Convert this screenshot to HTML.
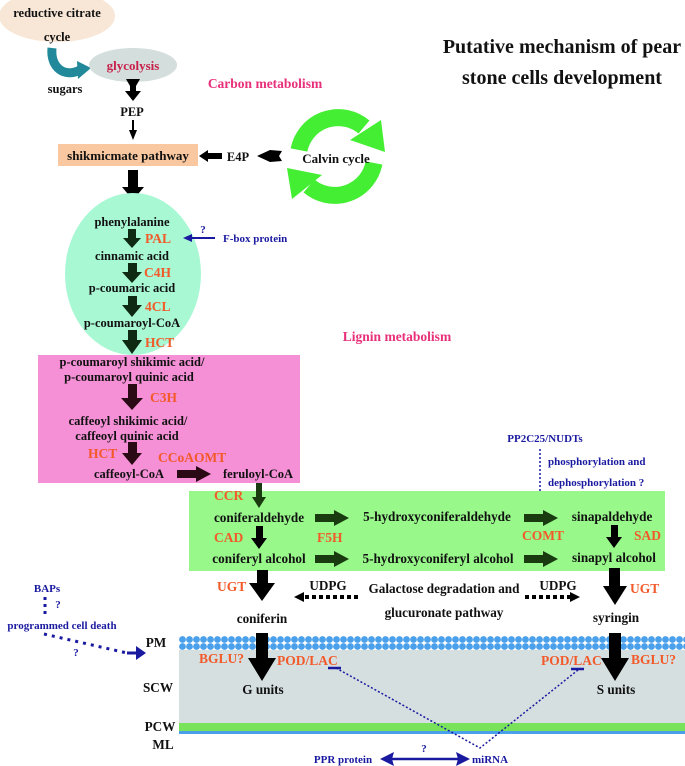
<!DOCTYPE html>
<html><head><meta charset="utf-8"><style>
html,body{margin:0;padding:0;background:#fff;}
svg{display:block;}
text{font-family:"Liberation Serif",serif;font-weight:bold;font-size:12.5px;fill:#111;}
.l{font-size:13.2px;}
.r{fill:#f25a2a;font-size:13.5px;}
.b{fill:#1a1aa0;font-size:11px;}
.m{text-anchor:middle;}
.p{fill:#e8307a;font-size:13.5px;}
</style></head><body>
<svg width="685" height="766" viewBox="0 0 685 766" xmlns="http://www.w3.org/2000/svg">
<defs>
<pattern id="dots" x="179" y="636" width="7" height="7" patternUnits="userSpaceOnUse">
<circle cx="3.5" cy="3.5" r="3.4" fill="#4aa0ea"/></pattern>
</defs>
<ellipse cx="57" cy="16" rx="58" ry="26" fill="#f8e6d6"/>
<text x="57" y="17" class="m">reductive citrate</text>
<text x="57" y="41" class="m">cycle</text>
<path d="M52,48 C50,68 65,78 80,70" fill="none" stroke="#21899a" stroke-width="9"/>
<polygon points="77,61 91,68 78,79" fill="#21899a"/>
<text x="65" y="93" class="m">sugars</text>
<ellipse cx="133" cy="65" rx="44" ry="17" fill="#d3dedd"/>
<text x="133" y="70" class="m" style="fill:#c8204a;font-size:13px">glycolysis</text>
<text x="265" y="88" class="m p">Carbon metabolism</text>
<text x="562" y="53" class="m" style="font-size:20px">Putative mechanism of pear</text>
<text x="562" y="84" class="m" style="font-size:20px">stone cells development</text>
<polygon points="126,79 140,79 136,86 136,91 141,91 133,101 125,91 130,91 130,86" fill="#000"/>
<text x="132" y="116" class="m">PEP</text>
<polygon points="132,120 134,120 134,130 137,130 133,140 129,130 132,130" fill="#000"/>
<rect x="58" y="144" width="140" height="22" fill="#f9c8a0"/>
<text x="128" y="160" class="m" style="font-size:13px">shikmicmate pathway</text>
<polygon points="199,156 208,150 208,153 222,153 222,159 208,159 208,162" fill="#000"/>
<text x="238" y="161" class="m">E4P</text>
<polygon points="257,156 270,150 282,151 279,156 282,161 270,162" fill="#000"/>
<path d="M299,150 A40,40 0 0 1 364,127" fill="none" stroke="#44ee33" stroke-width="17"/>
<polygon points="350,140 381,120 385,152" fill="#44ee33"/>
<path d="M374,163 A40,40 0 0 1 309,186" fill="none" stroke="#44ee33" stroke-width="17"/>
<polygon points="322,175 292,199 287,168" fill="#44ee33"/>
<text x="336" y="163" class="m" style="font-size:13px">Calvin cycle</text>
<polygon points="128,170 138,170 138,187 144,187 133,200 122,187 128,187" fill="#000"/>
<ellipse cx="133" cy="274" rx="68" ry="81" fill="#a8f8d4"/>
<text x="132" y="226" class="m">phenylalanine</text>
<polygon points="128,229 136,229 136,238 141,238 132,248 123,238 128,238" fill="#0e2a12"/>
<text x="145" y="243" class="r">PAL</text>
<polygon points="183,238 192,234 192,237 215,237 215,239 192,239 192,242" fill="#1a1aa0"/>
<text x="203" y="233" class="b m">?</text>
<text x="223" y="242" class="b">F-box protein</text>
<text x="132" y="260" class="m">cinnamic acid</text>
<polygon points="128,263 137,263 137,272 142,272 132,283 122,272 128,272" fill="#0e2a12"/>
<text x="144" y="277" class="r">C4H</text>
<text x="132" y="292" class="m">p-coumaric acid</text>
<polygon points="128,296 137,296 137,305 142,305 132,317 122,305 128,305" fill="#0e2a12"/>
<text x="145" y="311" class="r">4CL</text>
<text x="132" y="327" class="m">p-coumaroyl-CoA</text>
<polygon points="128,330 137,330 137,340 142,340 132,354 122,340 128,340" fill="#0e2a12"/>
<text x="145" y="347" class="r">HCT</text>
<text x="397" y="341" class="m p">Lignin metabolism</text>
<rect x="38" y="355" width="262" height="128" fill="#f58fd6"/>
<text x="132" y="366" class="m">p-coumaroyl shikimic acid/</text>
<text x="129" y="381" class="m">p-coumaroyl quinic acid</text>
<polygon points="128,384 137,384 137,398 143,398 132,410 121,398 128,398" fill="#2a0a14"/>
<text x="150" y="402" class="r">C3H</text>
<text x="128" y="425" class="m">caffeoyl shikimic acid/</text>
<text x="127" y="440" class="m">caffeoyl quinic acid</text>
<polygon points="128,442 137,442 137,453 142,453 132,465 122,453 128,453" fill="#2a0a14"/>
<text x="88" y="458" class="r">HCT</text>
<text x="158" y="462" class="r">CCoAOMT</text>
<text x="129" y="478" class="m">caffeoyl-CoA</text>
<polygon points="177,470 196,470 196,466 211,474 196,482 196,478 177,478" fill="#2a0a14"/>
<text x="258" y="478" class="m">feruloyl-CoA</text>
<text x="545" y="442" class="b m">PP2C25/NUDTs</text>
<text x="548" y="465" class="b">phosphorylation and</text>
<text x="548" y="486" class="b">dephosphorylation ?</text>
<line x1="540" y1="449" x2="540" y2="500" stroke="#1a1aa0" stroke-width="1.5" stroke-dasharray="2,2"/>
<polygon points="536,497 544,497 540,505" fill="#1a1aa0"/>
<rect x="189" y="491" width="476" height="80" fill="#98f98a"/>
<polygon points="256,483 262,483 262,497 266,497 259,508 252,497 256,497" fill="#1a3a10"/>
<text x="214" y="500" class="r">CCR</text>
<text x="259" y="522" class="m l">coniferaldehyde</text>
<polygon points="315,514 334,514 334,510 349,518 334,526 334,522 315,522" fill="#1a3a10"/>
<text x="437" y="521" class="m l">5-hydroxyconiferaldehyde</text>
<polygon points="524,514 543,514 543,510 558,518 543,526 543,522 524,522" fill="#1a3a10"/>
<text x="612" y="521" class="m l">sinapaldehyde</text>
<polygon points="256,526 263,526 263,538 267,538 259,549 251,538 256,538" fill="#000"/>
<text x="214" y="542" class="r">CAD</text>
<text x="317" y="542" class="r">F5H</text>
<text x="522" y="540" class="r">COMT</text>
<text x="634" y="540" class="r">SAD</text>
<polygon points="611,525 618,525 618,537 622,537 614,548 606,537 611,537" fill="#000"/>
<text x="259" y="563" class="m l">coniferyl alcohol</text>
<polygon points="315,555 334,555 334,551 349,559 334,567 334,563 315,563" fill="#1a3a10"/>
<text x="438" y="563" class="m l">5-hydroxyconiferyl alcohol</text>
<polygon points="524,555 543,555 543,551 558,559 543,567 543,563 524,563" fill="#1a3a10"/>
<text x="614" y="562" class="m l">sinapyl alcohol</text>
<polygon points="257,570 268,570 268,583 275,583 262,601 249,583 257,583" fill="#000"/>
<polygon points="609,568 620,568 620,586 627,586 615,605 603,586 609,586" fill="#000"/>
<text x="217" y="591" class="r">UGT</text>
<text x="630" y="593" class="r">UGT</text>
<text x="328" y="590" class="m l">UDPG</text>
<text x="558" y="590" class="m l">UDPG</text>
<text x="444" y="593" class="m l">Galactose degradation and</text>
<text x="444" y="617" class="m l">glucuronate pathway</text>
<line x1="305" y1="597" x2="360" y2="597" stroke="#000" stroke-width="4" stroke-dasharray="4,3"/>
<polygon points="294,597 304,592 304,602" fill="#000"/>
<line x1="525" y1="597" x2="571" y2="597" stroke="#000" stroke-width="4" stroke-dasharray="4,3"/>
<polygon points="580,597 570,592 570,602" fill="#000"/>
<text x="262" y="623" class="m l">coniferin</text>
<text x="616" y="622" class="m l">syringin</text>
<rect x="179" y="650" width="506" height="73" fill="#d6dfe0"/>
<rect x="179" y="723" width="506" height="8" fill="#78e35a"/>
<rect x="179" y="731" width="506" height="3" fill="#4aa0ea"/>
<rect x="179" y="636" width="506" height="14" fill="url(#dots)"/>
<text x="156" y="647" class="m l">PM</text>
<text x="158" y="692" class="m l">SCW</text>
<text x="160" y="731" class="m l">PCW</text>
<text x="163" y="749" class="m l">ML</text>
<polygon points="256,633 268,633 268,658 276,658 262,681 248,658 256,658" fill="#000"/>
<polygon points="609,633 621,633 621,658 629,658 615,681 601,658 609,658" fill="#000"/>
<text x="199" y="663" class="r">BGLU?</text>
<text x="277" y="665" class="r">POD/LAC</text>
<text x="541" y="665" class="r">POD/LAC</text>
<text x="631" y="664" class="r">BGLU?</text>
<text x="263" y="694" class="m l">G units</text>
<text x="616" y="694" class="m l">S units</text>
<polyline points="336,668 480,748 578,670" fill="none" stroke="#1a1aa0" stroke-width="1.5" stroke-dasharray="2,2"/>
<line x1="328" y1="668" x2="341" y2="668" stroke="#1a1aa0" stroke-width="2.5"/>
<line x1="571" y1="669" x2="584" y2="669" stroke="#1a1aa0" stroke-width="2.5"/>
<text x="343" y="763" class="b m">PPR protein</text>
<text x="490" y="763" class="b m">miRNA</text>
<text x="424" y="752" class="b m">?</text>
<line x1="388" y1="759" x2="462" y2="759" stroke="#1a1aa0" stroke-width="2.5"/>
<polygon points="380,759 394,752 392,759 394,766" fill="#1a1aa0"/>
<polygon points="470,759 456,752 458,759 456,766" fill="#1a1aa0"/>
<text x="47" y="592" class="b m">BAPs</text>
<line x1="45" y1="597" x2="45" y2="617" stroke="#1a1aa0" stroke-width="3" stroke-dasharray="3,4"/>
<text x="58" y="608" class="b m">?</text>
<text x="62" y="629" class="b m">programmed cell death</text>
<line x1="44" y1="634" x2="127" y2="653" stroke="#1a1aa0" stroke-width="3" stroke-dasharray="3,5"/>
<text x="76" y="656" class="b m">?</text>
<line x1="127" y1="653" x2="137" y2="653" stroke="#1a1aa0" stroke-width="3"/>
<polygon points="136,646 146,653 136,660" fill="#1a1aa0"/>
</svg>
</body></html>
